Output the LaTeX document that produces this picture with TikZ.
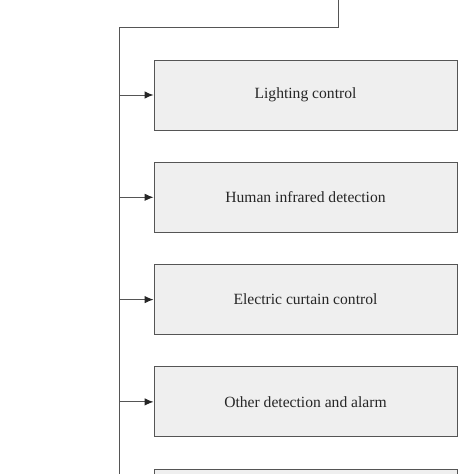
\documentclass[tikz,border=0pt]{standalone}
\usepackage{xcolor}
\usepackage{fontspec}
\setmainfont{Liberation Serif}
\usetikzlibrary{arrows.meta,positioning}
\definecolor{boxfill}{HTML}{EFEFEF}
\definecolor{linegray}{HTML}{555555}

\begin{document}
\begin{tikzpicture}[x=1pt,y=-1pt,
    funcbox/.style={draw=linegray, fill=boxfill, line width=0.9pt,
        minimum width=303pt, minimum height=70pt, inner sep=0pt,
        text=black!85, font=\fontsize{15.6}{18}\selectfont},
    feed/.style={draw=linegray, line width=1pt},
    arr/.style={feed, -{Latex[length=9pt,width=7.5pt,color=black!85]}}]
    \clip (0,0) rectangle (474,474);

    % Function boxes
    \node[funcbox] (light) at (305.5,95) {Lighting control};
    \node[funcbox, below=31.4pt of light] (infra) {Human infrared detection};
    \node[funcbox, below=31.4pt of infra] (curtain) {Electric curtain control};
    \node[funcbox, below=31.4pt of curtain] (alarm) {Other detection and alarm};
    \node[funcbox, below=31.4pt of alarm] (more) {};

    % Feed line from above
    \coordinate (top) at (338,-2);
    \coordinate (bus) at (119,27);
    \coordinate (busend) at (119,480);
    \draw[feed] (top) |- (bus) -- (busend);

    % Branch arrows
    \foreach \b in {light,infra,curtain,alarm}
        \draw[arr] (bus |- \b.west) -- (\b.west);

\end{tikzpicture}
\end{document}
